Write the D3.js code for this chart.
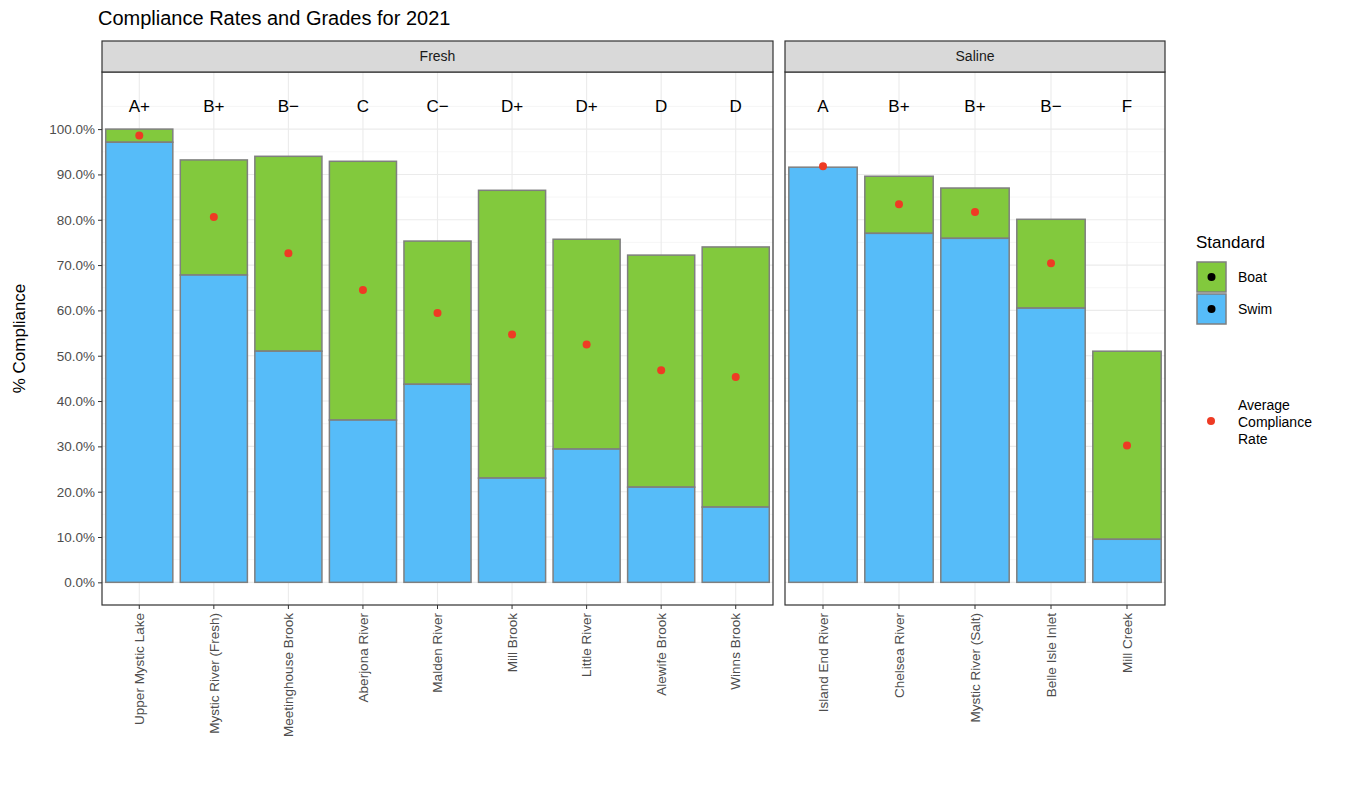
<!DOCTYPE html>
<html><head><meta charset="utf-8">
<script src="https://cdn.jsdelivr.net/npm/d3@7"></script>
<style>body{margin:0;background:#fff;font-family:"Liberation Sans",Arial,sans-serif}</style>
</head><body>
<svg id="chart" width="1360" height="796"></svg>
<script>
// data
var freshSites = ["Upper Mystic Lake","Mystic River (Fresh)","Meetinghouse Brook","Aberjona River","Malden River","Mill Brook","Little River","Alewife Brook","Winns Brook"];
var freshSwim = [97.1,67.8,51.0,35.8,43.7,23.0,29.4,21.0,16.6];
var freshTotal = [100.0,93.2,94.0,92.9,75.3,86.5,75.7,72.2,74.0];
var freshAvg = [98.6,80.6,72.6,64.5,59.4,54.7,52.5,46.8,45.3];
var freshGrade = ["A+","B+","B\u2212","C","C\u2212","D+","D+","D","D"];

var salineSites = ["Island End River","Chelsea River","Mystic River (Salt)","Belle Isle Inlet","Mill Creek"];
var salineSwim = [91.6,77.0,75.9,60.5,9.5];
var salineTotal = [91.6,89.6,87.0,80.1,51.0];
var salineAvg = [91.8,83.4,81.7,70.4,30.2];
var salineGrade = ["A","B+","B+","B\u2212","F"];

var yTicks = d3.range(0, 101, 10);
var swimColor = "#56BCF9", boatColor = "#82C93D", dotColor = "#EE3B24";

var svg = d3.select("#chart");
var plotTop = 72, plotBottom = 605;
var y = d3.scaleLinear().domain([-5, 112.6]).range([plotBottom, plotTop]);

svg.append("text").attr("x", 98).attr("y", 25).attr("font-size", 20).text("Compliance Rates and Grades for 2021");

function panel(x0, x1, name, sites, swim, total, avg, grade) {
  var g = svg.append("g");
  var x = d3.scaleBand().domain(sites).range([x0, x1]).paddingInner(0.1).paddingOuter(0.05);
  // grid
  d3.range(-5, 112, 5).forEach(function (v) {
    if (v % 10 === 0) return;
    g.append("line").attr("x1", x0).attr("x2", x1).attr("y1", y(v)).attr("y2", y(v)).attr("stroke", "#f0f0f0").attr("stroke-width", 0.6);
  });
  yTicks.forEach(function (v) {
    g.append("line").attr("x1", x0).attr("x2", x1).attr("y1", y(v)).attr("y2", y(v)).attr("stroke", "#ebebeb").attr("stroke-width", 1.1);
  });
  sites.forEach(function (s) {
    var cx = x(s) + x.bandwidth() / 2;
    g.append("line").attr("x1", cx).attr("x2", cx).attr("y1", plotTop).attr("y2", plotBottom).attr("stroke", "#ebebeb").attr("stroke-width", 1.1);
  });
  sites.forEach(function (s, i) {
    g.append("rect").attr("x", x(s)).attr("width", x.bandwidth()).attr("y", y(total[i])).attr("height", y(swim[i]) - y(total[i]))
      .attr("fill", boatColor).attr("stroke", "#7f7f7f").attr("stroke-width", 1.5);
    g.append("rect").attr("x", x(s)).attr("width", x.bandwidth()).attr("y", y(swim[i])).attr("height", y(0) - y(swim[i]))
      .attr("fill", swimColor).attr("stroke", "#7f7f7f").attr("stroke-width", 1.5);
    var cx = x(s) + x.bandwidth() / 2;
    g.append("circle").attr("cx", cx).attr("cy", y(avg[i])).attr("r", 4).attr("fill", dotColor);
    g.append("text").attr("x", cx).attr("y", y(105) + 6).attr("text-anchor", "middle").attr("font-size", 17).text(grade[i]);
  });
  g.append("rect").attr("x", x0).attr("y", plotTop).attr("width", x1 - x0).attr("height", plotBottom - plotTop).attr("fill", "none").attr("stroke", "#333").attr("stroke-width", 1.2);
  g.append("rect").attr("x", x0).attr("y", 41).attr("width", x1 - x0).attr("height", plotTop - 41).attr("fill", "#d9d9d9").attr("stroke", "#333").attr("stroke-width", 1.2);
  g.append("text").attr("x", (x0 + x1) / 2).attr("y", 61).attr("text-anchor", "middle").attr("font-size", 14).attr("fill", "#1a1a1a").text(name);
  var ax = g.append("g").attr("transform", "translate(0," + plotBottom + ")").call(d3.axisBottom(x).tickSizeOuter(0).tickSize(4));
  ax.select(".domain").remove();
  ax.selectAll("line").attr("stroke", "#333");
  ax.selectAll("text").attr("transform", "rotate(-90)").attr("text-anchor", "end").attr("dx", "-0.6em").attr("dy", "0.35em")
    .attr("x", 0).attr("y", 0).attr("font-size", 13.5).attr("fill", "#4d4d4d").attr("font-family", "Liberation Sans, Arial");
}

panel(102, 773, "Fresh", freshSites, freshSwim, freshTotal, freshAvg, freshGrade);
panel(785, 1165, "Saline", salineSites, salineSwim, salineTotal, salineAvg, salineGrade);

var ay = svg.append("g").attr("transform", "translate(102,0)").call(d3.axisLeft(y).tickValues(yTicks).tickSize(4).tickFormat(function (d) { return d.toFixed(1) + "%"; }));
ay.select(".domain").remove();
ay.selectAll("line").attr("stroke", "#333");
ay.selectAll("text").attr("font-size", 13.5).attr("fill", "#4d4d4d").attr("font-family", "Liberation Sans, Arial");

svg.append("text").attr("transform", "translate(25," + ((plotTop + plotBottom) / 2) + ") rotate(-90)").attr("text-anchor", "middle").attr("font-size", 17).text("% Compliance");

// legend
var lg = svg.append("g");
lg.append("text").attr("x", 1196).attr("y", 248).attr("font-size", 17).text("Standard");
[["Boat", boatColor], ["Swim", swimColor]].forEach(function (d, i) {
  var yy = 262 + i * 32;
  lg.append("rect").attr("x", 1197).attr("y", yy).attr("width", 29).attr("height", 30).attr("fill", d[1]).attr("stroke", "#7f7f7f").attr("stroke-width", 1.5);
  lg.append("circle").attr("cx", 1211.5).attr("cy", yy + 15).attr("r", 4).attr("fill", "#000");
  lg.append("text").attr("x", 1238).attr("y", yy + 20).attr("font-size", 14).text(d[0]);
});
lg.append("circle").attr("cx", 1211).attr("cy", 421).attr("r", 4).attr("fill", dotColor);
["Average", "Compliance", "Rate"].forEach(function (t, i) {
  lg.append("text").attr("x", 1238).attr("y", 410 + i * 17).attr("font-size", 14).text(t);
});
</script>
</body></html>
